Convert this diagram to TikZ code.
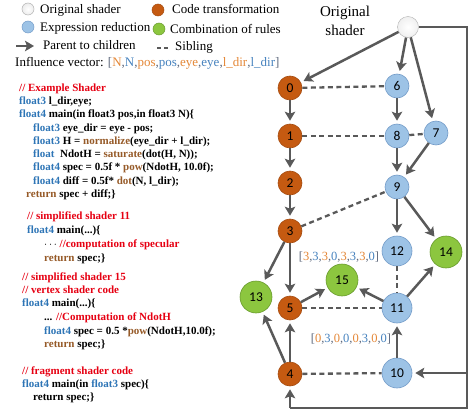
\documentclass[tikz,border=0pt]{standalone}
\usepackage{fontspec}
\setmainfont{Liberation Serif}
\newfontfamily\numfont{Carlito}
\usetikzlibrary{arrows.meta}
\definecolor{orgfill}{RGB}{197,90,17}
\definecolor{orgdraw}{RGB}{165,75,15}
\definecolor{bluefill}{RGB}{157,195,230}
\definecolor{bluedraw}{RGB}{115,155,200}
\definecolor{greenfill}{RGB}{140,198,63}
\definecolor{greendraw}{RGB}{105,155,45}
\definecolor{edgegray}{RGB}{89,89,89}
\definecolor{codered}{RGB}{230,0,18}
\definecolor{codeblue}{RGB}{46,117,182}
\definecolor{codebrown}{RGB}{150,90,40}
\definecolor{vecorange}{RGB}{228,135,55}
\definecolor{vecblue}{RGB}{70,130,190}
\definecolor{vecgray}{RGB}{95,105,125}
\newcommand{\mykw}[1]{\textcolor{codeblue}{#1}}
\newcommand{\myfn}[1]{\textcolor{codebrown}{#1}}
\newcommand{\mycm}[1]{\textcolor{codered}{#1}}
\newcommand{\vo}[1]{\textcolor{vecorange}{#1}}
\newcommand{\vb}[1]{\textcolor{vecblue}{#1}}
\newcommand{\vg}[1]{\textcolor{vecgray}{#1}}
\begin{document}
\begin{tikzpicture}[x=1pt,y=-1pt,
  basenode/.style={circle,inner sep=0pt,line width=0.6pt,font=\numfont\fontsize{13.5}{13.5}\selectfont},
  orgnode/.style={basenode,fill=orgfill,draw=orgdraw,minimum size=24pt},
  bluenode/.style={basenode,fill=bluefill,draw=bluedraw,minimum size=24pt},
  bigblue/.style={basenode,fill=bluefill,draw=bluedraw,minimum size=30pt},
  greennode/.style={basenode,fill=greenfill,draw=greendraw,minimum size=32pt},
  orignode/.style={circle,inner sep=0pt,minimum size=21pt,draw=gray!60,inner color=white,outer color=gray!12},
  edge/.style={draw=edgegray,line width=2.5pt,-{Stealth[length=9pt,width=10.5pt,inset=2pt]},shorten >=3pt},
  plainline/.style={draw=edgegray,line width=2.5pt},
  sib/.style={draw=edgegray,line width=2.3pt,dash pattern=on 5pt off 3.5pt},
  code/.style={anchor=base west,inner sep=0pt,font=\bfseries\fontsize{11}{13}\selectfont},
  legtext/.style={anchor=base west,inner sep=0pt,font=\fontsize{13}{15}\selectfont},
  vectext/.style={inner sep=0pt,font=\fontsize{12.5}{15}\selectfont},
  legcirc/.style={circle,inner sep=0pt,minimum size=12pt,line width=0.5pt}
]
\useasboundingbox (0,0) rectangle (474,412);

% ---------- legend ----------
\node[legcirc,draw=gray!60,inner color=white,outer color=gray!15] (lc1) at (28,9) {};
\node[legtext] (lt1) at (40,13.5) {Original shader};
\node[legcirc,fill=bluefill,draw=bluedraw] (lc2) at (28,27) {};
\node[legtext] (lt2) at (40,31.7) {Expression reduction};
\node[legcirc,fill=orgfill,draw=orgdraw] (lc3) at (158,10) {};
\node[legtext] (lt3) at (172,13.5) {Code transformation};
\node[legcirc,fill=greenfill,draw=greendraw] (lc4) at (159,29) {};
\node[legtext] (lt4) at (170,33.3) {Combination of rules};
\coordinate (la1) at (16,46);
\coordinate (la2) at (34,46);
\draw[draw=edgegray,line width=2.5pt,-{Stealth[length=9pt,width=10.5pt,inset=2pt]}] (la1) -- (la2);
\node[legtext] (lt5) at (43,50) {Parent to children};
\coordinate (ld1) at (157,48);
\coordinate (ld2) at (168,48);
\draw[draw=edgegray,line width=2.3pt,dash pattern=on 4pt off 3pt] (ld1) -- (ld2);
\node[legtext] (lt6) at (175,50.7) {Sibling};
\node[legtext] (lt7) at (15,66.7) {Influence vector: \vg{[}\vo{N}\vg{,}\vb{N}\vg{,}\vo{pos}\vg{,}\vb{pos}\vg{,}\vo{eye}\vg{,}\vb{eye}\vg{,}\vo{l\_dir}\vg{,}\vb{l\_dir}\vg{]}};

% ---------- code ----------
\node[code] (a1) at (19,91.3) {\mycm{// Example Shader}};
\node[code] (a2) at (19,104.6) {\mykw{float3} l\_dir,eye;};
\node[code] (a3) at (19,117.8) {\mykw{float4} main(in float3 pos,in float3 N)\{};
\node[code] (a4) at (33,131.1) {\mykw{float3} eye\_dir = eye - pos;};
\node[code] (a5) at (33,144.3) {\mykw{float3} H = \myfn{normalize}(eye\_dir + l\_dir);};
\node[code] (a6) at (33,157.6) {\mykw{float}\ \ NdotH = \myfn{saturate}(dot(H, N));};
\node[code] (a7) at (33,170.8) {\mykw{float4} spec = 0.5f * \myfn{pow}(NdotH, 10.0f);};
\node[code] (a8) at (33,184.1) {\mykw{float4} diff = 0.5f* \myfn{dot}(N, l\_dir);};
\node[code] (a9) at (26,197.3) {\myfn{return} spec + diff;\}};

\node[code] (b1) at (27,219) {\mycm{// simplified shader 11}};
\node[code] (b2) at (27,233) {\mykw{float4} main(...)\{};
\node[code] (b3) at (44,247) {$\cdots$ \mycm{//computation of specular}};
\node[code] (b4) at (44,261) {\myfn{return} spec;\}};

\node[code] (c1) at (22,280.7) {\mycm{// simplified shader 15}};
\node[code] (c2) at (22,293.3) {\mycm{// vertex shader code}};
\node[code] (c3) at (22,306.7) {\mykw{float4} main(...)\{};
\node[code] (c4) at (44,320.7) {... \mycm{//Computation of NdotH}};
\node[code] (c5) at (44,334) {\mykw{float4} spec = 0.5 *\myfn{pow}(NdotH,10.0f);};
\node[code] (c6) at (44,347.3) {\myfn{return} spec;\}};

\node[code] (d1) at (22,374) {\mycm{// fragment shader code}};
\node[code] (d2) at (22,387.3) {\mykw{float4} main(in \mykw{float3} spec)\{};
\node[code] (d3) at (33,400.7) {return spec;\}};

% ---------- graph ----------
\node[align=center,inner sep=0pt,font=\fontsize{15}{19}\selectfont] (title) at (345,21) {Original\\shader};
\node[orignode] (o) at (408,27) {};
\node[orgnode] (n0) at (290,88) {0};
\node[orgnode] (n1) at (290,136) {1};
\node[orgnode] (n2) at (290,183) {2};
\node[orgnode] (n3) at (290,231) {3};
\node[orgnode] (n5) at (290,308) {5};
\node[orgnode] (n4) at (290,374) {4};
\node[bluenode] (n6) at (397,86) {6};
\node[bluenode] (n8) at (397,136) {8};
\node[bluenode] (n7) at (436,133) {7};
\node[bluenode] (n9) at (397,187) {9};
\node[bigblue] (n12) at (397,251) {12};
\node[bigblue] (n11) at (397,308) {11};
\node[bigblue] (n10) at (397,373) {10};
\node[greennode] (n14) at (446,252) {14};
\node[greennode] (n15) at (342,280) {15};
\node[greennode] (n13) at (256,297) {13};

% siblings
\draw[sib] (n0) -- (n6);
\draw[sib] (n1) -- (n8);
\draw[sib] (n8) -- (n7);
\draw[sib] (n3) -- (n9);
\draw[sib] (n12) -- (n11);
\draw[sib] (n5) -- (n11);
\draw[sib] (n4) -- (n10);

% parent to children
\draw[edge] (o) -- (n0);
\draw[edge] (o) -- (n6);
\draw[edge] (o) -- (n7);
\draw[edge] (n0) -- (n1);
\draw[edge] (n1) -- (n2);
\draw[edge] (n2) -- (n3);
\draw[edge] (n3) -- (n5);
\draw[edge] (n3) -- (n13);
\draw[edge] (n4) -- (n5);
\draw[edge] (n4) -- (n13);
\draw[edge] (n5) -- (n15);
\draw[edge] (n6) -- (n8);
\draw[edge] (n8) -- (n9);
\draw[edge] (n7) -- (n9);
\draw[edge] (n9) -- (n12);
\draw[edge] (n9) -- (n14);
\draw[edge] (n11) -- (n15);
\draw[edge] (n11) -- (n14);
\draw[edge] (n10) -- (n11);

% loop from original shader
\coordinate (k1) at (467,27);
\coordinate (k2) at (467,408);
\coordinate (k3) at (290,408);
\coordinate (k4) at (467,373);
\draw[plainline] (o.east) -- (k1) -- (k2) -- (k3);
\draw[edge] (k3) -- (n4.south);
\draw[edge] (k4) -- (n10.east);

% influence vectors
\node[vectext] (v1) at (339,257) {\vg{[}\vo{3}\vg{,}\vb{3}\vg{,}\vo{3}\vg{,}\vb{0}\vg{,}\vo{3}\vg{,}\vb{3}\vg{,}\vo{3}\vg{,}\vb{0}\vg{]}};
\node[vectext] (v2) at (351,339) {\vg{[}\vo{0}\vg{,}\vb{3}\vg{,}\vo{0}\vg{,}\vb{0}\vg{,}\vo{0}\vg{,}\vb{3}\vg{,}\vo{0}\vg{,}\vb{0}\vg{]}};
\end{tikzpicture}
\end{document}
